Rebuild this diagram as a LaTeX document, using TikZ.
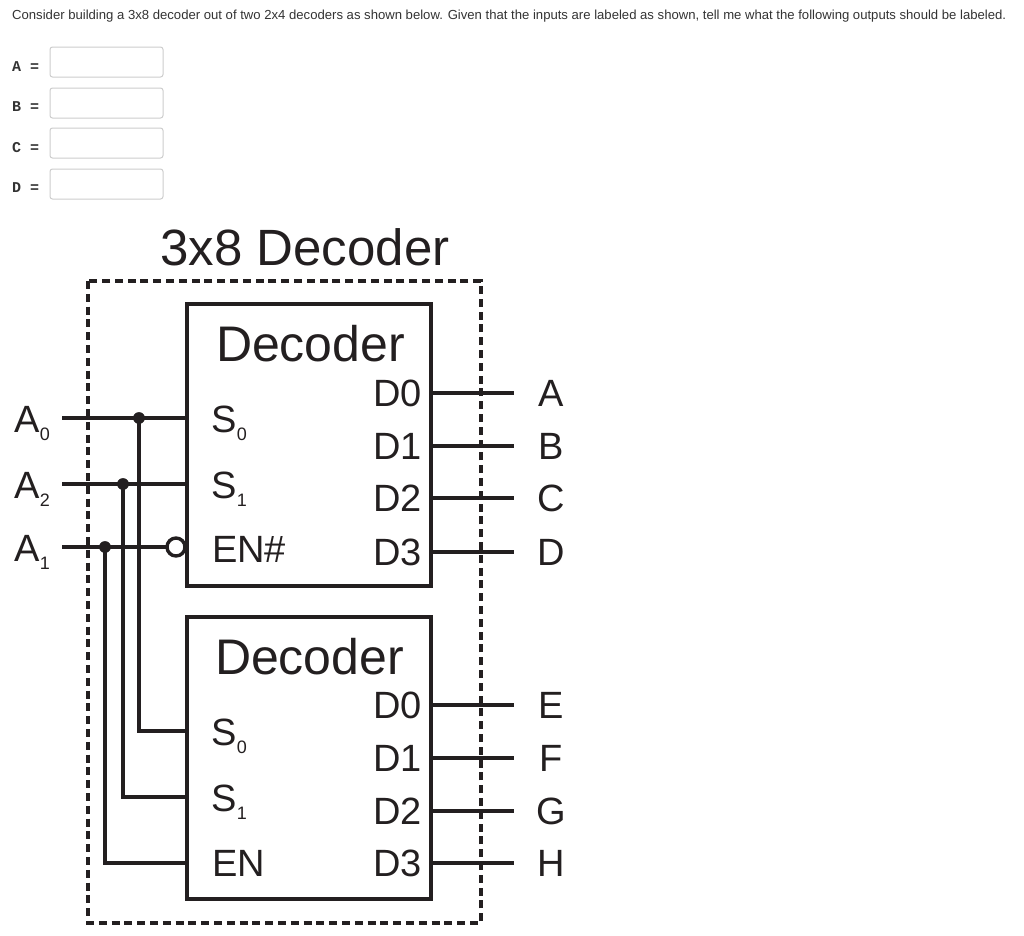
\documentclass[tikz,border=0pt]{standalone}
\usepackage{fontspec}
\setmainfont{Liberation Sans}
\setmonofont{Liberation Mono}
\usetikzlibrary{calc}
\definecolor{ink}{RGB}{35,31,32}
\definecolor{qtext}{RGB}{51,51,51}
\definecolor{boxgray}{RGB}{204,204,204}
\newcommand{\mysub}[1]{\kern0.5pt\raisebox{-8pt}{\fontsize{18}{18}\selectfont #1}}
\begin{document}
\begin{tikzpicture}[x=1pt,y=-1pt,
  wire/.style={line width=3.6pt, draw=ink},
  blk/.style={draw=ink, line width=3.6pt, rectangle, minimum width=244pt, minimum height=282pt, inner sep=0pt, outer sep=0pt},
  frame/.style={draw=ink, line width=3.6pt, dash pattern=on 8pt off 4.8pt},
  lab/.style={font=\fontsize{38}{38}\selectfont, text=ink, inner sep=0pt, outer sep=0pt},
  big/.style={font=\fontsize{51}{51}\selectfont, text=ink, inner sep=0pt},
  dot/.style={circle, fill=ink, inner sep=0pt, minimum size=11.5pt},
  bubble/.style={circle, draw=ink, line width=3.4pt, fill=white, inner sep=0pt, minimum size=18pt, outer sep=0pt},
  fbox/.style={draw=boxgray, line width=1pt, rounded corners=2.5pt, minimum width=113pt, minimum height=30pt, inner sep=0pt},
  mono/.style={font=\fontsize{15}{15}\selectfont\ttfamily\bfseries, text=qtext, inner sep=0pt, anchor=base west}
]
\useasboundingbox (0,0) rectangle (1024,935);

% question text
\node[anchor=base west, inner sep=0pt, text=qtext] (q) at (12,19)
  {\resizebox{994pt}{!}{\fontsize{13}{15}\selectfont Consider building a 3x8 decoder out of two 2x4 decoders as shown below. Given that the inputs are labeled as shown, tell me what the following outputs should be labeled.}};

% answer fields
\node[mono] (la) at (12,71) {A =};
\node[mono] (lb) at (12,111) {B =};
\node[mono] (lc) at (12,152) {C =};
\node[mono] (ld) at (12,192) {D =};
\node[fbox] (fa) at (106.5,62) {};
\node[fbox] (fb) at (106.5,103) {};
\node[fbox] (fc) at (106.5,143) {};
\node[fbox] (fd) at (106.5,184) {};

% title
\node[big, anchor=base] (title) at (305,265) {3x8 Decoder};

% dashed frame
\draw[frame] (88,281) rectangle (481,923);

% decoder blocks
\node[blk] (top) at (309,445) {};
\node[blk] (bot) at (309,758) {};
\node[big, font=\fontsize{50}{50}\selectfont, anchor=base] (tname) at (310.5,361) {Decoder};
\node[big, font=\fontsize{50}{50}\selectfont, anchor=base] (bname) at (309.5,674) {Decoder};

% input labels
\node[lab, anchor=base west] (lA0) at (14,432) {A\mysub{0}};
\node[lab, anchor=base west] (lA2) at (14,498) {A\mysub{2}};
\node[lab, anchor=base west] (lA1) at (14,561) {A\mysub{1}};

% block input labels
\node[lab, anchor=base west] (ts0) at (211,432) {S\mysub{0}};
\node[lab, anchor=base west] (ts1) at (211,498) {S\mysub{1}};
\node[lab, anchor=base west] (ten) at (212,562) {EN\#};
\node[lab, anchor=base west] (bs0) at (211,745) {S\mysub{0}};
\node[lab, anchor=base west] (bs1) at (211,811) {S\mysub{1}};
\node[lab, anchor=base west] (ben) at (212,876) {EN};

% output labels in blocks
\foreach \i/\y in {0/393,1/446,2/498,3/552}{
  \node[lab, anchor=base east] (td\i) at (422,\y+13.5) {D\i};
}
\foreach \i/\y in {0/705,1/758,2/811,3/863}{
  \node[lab, anchor=base east] (bd\i) at (422,\y+13.5) {D\i};
}

% input coordinates and junctions
\coordinate (a0) at (62,418);
\coordinate (a2) at (62,484);
\coordinate (a1) at (62,547);
\node[dot] (j0) at (139,418) {};
\node[dot] (j2) at (123,484) {};
\node[dot] (j1) at (105,547) {};
\node[bubble] (nb) at (176,547) {};
\coordinate (b0) at (187,731);
\coordinate (b1) at (187,797);
\coordinate (b2) at (187,863);

% input wires
\draw[wire] (a0) -- (top.west |- a0);
\draw[wire] (a2) -- (top.west |- a2);
\draw[wire] (a1) -- (nb.west);
\draw[wire] (j0.center) -- (j0.center |- b0) -- (bot.west |- b0);
\draw[wire] (j2.center) -- (j2.center |- b1) -- (bot.west |- b1);
\draw[wire] (j1.center) -- (j1.center |- b2) -- (bot.west |- b2);
\node[dot] at (j0) {};
\node[dot] at (j2) {};
\node[dot] at (j1) {};

% output wires and labels
\foreach \n/\y/\t in {0/393/A,1/446/B,2/498/C,3/552/D,4/705/E,5/758/F,6/811/G,7/863/H}{
  \coordinate (o\n) at (514,\y);
  \node[lab, anchor=base] (out\n) at (551,\y+13.5) {\t};
}
\draw[wire] (top.east |- o0) -- (o0);
\draw[wire] (top.east |- o1) -- (o1);
\draw[wire] (top.east |- o2) -- (o2);
\draw[wire] (top.east |- o3) -- (o3);
\draw[wire] (bot.east |- o4) -- (o4);
\draw[wire] (bot.east |- o5) -- (o5);
\draw[wire] (bot.east |- o6) -- (o6);
\draw[wire] (bot.east |- o7) -- (o7);
\end{tikzpicture}
\end{document}
